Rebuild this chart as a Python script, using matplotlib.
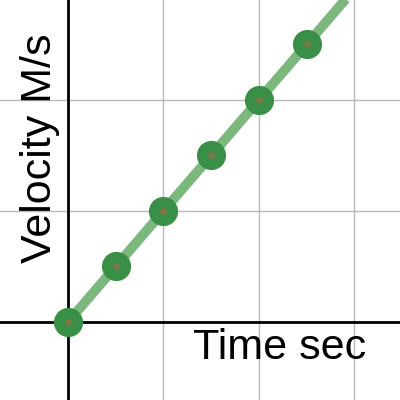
import matplotlib
matplotlib.use("Agg")
import matplotlib.pyplot as plt

time_pts = [0, 1, 2, 3, 4, 5]
velocity_pts = [0, 1, 2, 3, 4, 5]
line_x = [0, 7]
line_y = [0, 7]
grid_x = [2, 4, 6]
grid_y = [2, 4]

fig = plt.figure(figsize=(4, 4), dpi=100)
ax = fig.add_axes([0, 0, 1, 1])
ax.set_xlim(-1.424, 6.953)
ax.set_ylim(-1.405, 5.80)
for gx in grid_x:
    ax.axvline(gx, color="#bbbbbb", lw=1, zorder=0)
for gy in grid_y:
    ax.axhline(gy, color="#bbbbbb", lw=1, zorder=0)
ax.axvline(0, color="black", lw=2, zorder=1)
ax.axhline(0, color="black", lw=2, zorder=1)
ax.plot(line_x, line_y, color="#7cb87e", lw=7, solid_capstyle="butt", zorder=2)
ax.plot(time_pts, velocity_pts, "o", color="#3a8f46", ms=21, mec="none", zorder=3)
ax.plot(time_pts, velocity_pts, "o", color="#c0604a", ms=5, mec="none", alpha=0.5, zorder=4)
ax.set_axis_off()
fig.text(0.1, 0.63, "Velocity M/s", rotation=90, ha="center", va="center",
         fontsize=31, family="Liberation Sans")
fig.text(0.7, 0.13, "Time sec", ha="center", va="center",
         fontsize=31, family="Liberation Sans")
fig.savefig("out.png")
